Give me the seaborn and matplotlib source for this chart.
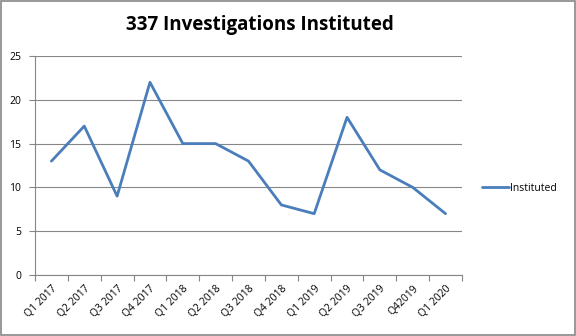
import matplotlib
matplotlib.use("Agg")
import matplotlib.pyplot as plt
import seaborn as sns
import pandas as pd
import numpy as np
from matplotlib.patches import Rectangle

quarters = ["Q1 2017", "Q2 2017", "Q3 2017", "Q4 2017", "Q1 2018", "Q2 2018",
            "Q3 2018", "Q4 2018", "Q1 2019", "Q2 2019", "Q3 2019", "Q42019", "Q1 2020"]
instituted = [13, 17, 9, 22, 15, 15, 13, 8, 7, 18, 12, 10, 7]
yticks = [0, 5, 10, 15, 20, 25]

sns.set_theme(style="white")
plt.rcParams['font.family'] = ['Open Sans', 'DejaVu Sans']
plt.rcParams['text.color'] = 'black'
plt.rcParams['xtick.color'] = 'black'
plt.rcParams['ytick.color'] = 'black'

df = pd.DataFrame({"pos": np.arange(len(quarters)), "Instituted": instituted})

fig = plt.figure(figsize=(5.76, 3.36), dpi=100)
ax = fig.add_axes([35/576, 1-275/336, (462-35)/576, (275-56)/336])

sns.lineplot(data=df, x="pos", y="Instituted", ax=ax, color="#4A7EBB",
             linewidth=2.0, label="Instituted")

ax.set_xlim(-0.5, len(quarters) - 0.5)
ax.set_ylim(0, 25)
ax.set_yticks(yticks)
ax.set_yticklabels([str(v) for v in yticks], fontsize=7.5)
ax.yaxis.grid(True, color="#868686", linewidth=0.8)
ax.set_axisbelow(True)

ax.set_xticks(np.arange(len(quarters)))
ax.set_xticklabels(quarters, rotation=45, ha="right", rotation_mode="anchor", fontsize=7.5)
ax.set_xticks(np.arange(len(quarters) + 1) - 0.5, minor=True)
ax.tick_params(axis="x", which="major", length=0, pad=6, labelcolor="black")
ax.tick_params(axis="x", which="minor", length=4, color="#868686", width=0.8, bottom=True)
ax.tick_params(axis="y", which="major", length=4, color="#868686", width=0.8, left=True,
               pad=6, labelcolor="black")
ax.set_xlabel("")
ax.set_ylabel("")

for s in ["top", "right"]:
    ax.spines[s].set_visible(False)
for s in ["left", "bottom"]:
    ax.spines[s].set_color("#868686")
    ax.spines[s].set_linewidth(0.8)

leg = ax.legend(loc="center left", bbox_to_anchor=(1.025, 0.395), frameon=False,
                fontsize=7.5, handlelength=2.6, handletextpad=0.1)
for t in leg.get_texts():
    t.set_color("black")

fig.text(260/576, 1-25/336, "337 Investigations Instituted", ha="center", va="center",
         fontsize=13.5, fontweight="bold", color="black")

fig.add_artist(Rectangle((0.001, 0.002), 0.997, 0.995, transform=fig.transFigure,
                         fill=False, edgecolor="#868686", linewidth=1.2))

fig.savefig("out.png", dpi=100, facecolor="white")
